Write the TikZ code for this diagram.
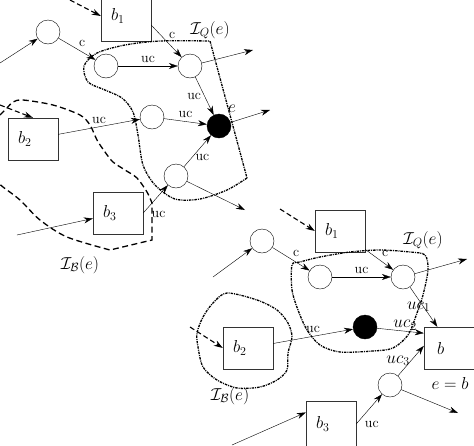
\documentclass[tikz,border=0pt]{standalone}
\usepackage{amsmath,amssymb}
\usetikzlibrary{arrows.meta, calc, positioning}

\tikzset{
  mth/.style={font=\fontsize{17}{20}\selectfont},
  vert/.style={draw, circle, minimum size=24pt, inner sep=0pt},
  evt/.style={vert, fill=black},
  bx/.style={draw=black!80, rectangle, minimum width=50pt, minimum height=42pt,
    text width=30pt, align=left, inner sep=0pt, mth},
  qreg/.style={line width=1.3pt, dash pattern=on 2.5pt off 1pt on 1pt off 1pt},
  breg/.style={line width=1.3pt, dash pattern=on 6pt off 3.5pt},
  dsharr/.style={->, line width=1.1pt, dash pattern=on 5pt off 3pt},
}

\begin{document}
\begin{tikzpicture}[x=1pt, y=-1pt, font=\fontsize{14}{16}\selectfont]
    \tikzset{>={Stealth[length=9pt,width=6pt]}}
    \clip (0,0) rectangle (474,445);

    % first state
    \node[bx, minimum height=50pt] (b1) at (126,16) {$b_1$};
    \node[bx] (b2) at (33,139) {$b_2$};
    \node[bx] (b3) at (118,213) {$b_3$};
    \node[vert] (c1) at (48,32) {};
    \node[vert] (c2) at (106,66) {};
    \node[vert] (c3) at (190,66) {};
    \node[vert] (c4) at (152,117) {};
    \node[vert] (c5) at (176,176) {};
    \node[evt, label={[mth, label distance=-1pt]60:$e$}] (e1) at (219,126) {};
    \coordinate (in1) at (0,63);
    \coordinate (in3) at (17,235);
    \coordinate (out3) at (253,50);
    \coordinate (oute) at (270,110);
    \coordinate (out5) at (245,210);
    \coordinate (ds1) at (70,0);
    \coordinate (ds2) at (0,105);

    \draw[->] (in1) -- (c1);
    \draw[->] (c1) -- node[above right=-2pt] {c} (c2);
    \draw[->] (c2) -- node[above] {uc} (c3);
    \draw[->] ($(b1.north east)!0.68!(b1.south east)$) -- node[above right=-1pt] {c} (c3);
    \draw[->] (c3) -- (out3);
    \draw[->] (c3) -- node[left] {uc} (e1);
    \draw[->] (b2) -- node[above] {uc} (c4);
    \draw[->] (c4) -- node[above] {uc} (e1);
    \draw[->] (e1) -- (oute);
    \draw[->] (c5) -- node[pos=0.3, right] {uc} (e1);
    \draw[->] (c5) -- (out5);
    \draw[->] (in3) -- (b3);
    \draw[->] (b3.east) -- node[pos=0.2, below right] {uc} (c5);
    \draw[dsharr] (ds1) -- (b1.west);
    \draw[dsharr] (ds2) -- (b2.north);

    \draw[qreg] plot[smooth] coordinates {(247,178) (227,190) (200,199) (175,199)
      (155,185) (143,165) (138,135) (133,112) (122,98) (105,90) (88,82) (84,66)
      (97,53) (125,45) (160,41) (210,41)} -- cycle;
    \draw[breg] plot[smooth] coordinates {(0,115) (7,108) (13,102) (23,100) (53,105)
      (80,115) (90,125) (97,140) (105,152) (113,162) (125,170) (137,178) (147,192)
      (152,203)} -- (152,240) -- (110,250) -- plot[smooth] coordinates {(110,250)
      (67,237) (40,220) (20,200) (3,187) (-5,180)};
    \node[mth] (iq1) at (210,30) {$\mathcal{I}_Q(e)$};
    \node[mth] (ib1) at (80,265) {$\mathcal{I}_{\mathcal{B}}(e)$};

    % second state
    \node[bx] (p1) at (340,231) {$b_1$};
    \node[bx] (p2) at (248,348) {$b_2$};
    \node[bx, minimum height=46pt] (p3) at (331,424) {$b_3$};
    \node[bx, minimum width=56pt] (bb) at (452,348) {$b$};
    \node[vert] (d1) at (262,241) {};
    \node[vert] (d2) at (320,277) {};
    \node[vert] (d3) at (403,277) {};
    \node[vert] (d4) at (390,385) {};
    \node[evt] (e2) at (365,327) {};
    \coordinate (ind1) at (213,277);
    \coordinate (inp3) at (232,445);
    \coordinate (outd3) at (467,259);
    \coordinate (outd4) at (458,413);
    \coordinate (ds3) at (280,209);
    \coordinate (ds4) at (190,327);

    \draw[->] (ind1) -- (d1);
    \draw[->] (d1) -- node[above right=-2pt] {c} (d2);
    \draw[->] (d2) -- node[above] {uc} (d3);
    \draw[->] (p1) -- node[above right=-1pt] {c} (d3);
    \draw[->] (d3) -- (outd3);
    \draw[->] (d3) -- node[pos=0.5, xshift=-5pt, mth] {$uc_1$} (bb);
    \draw[->] (p2) -- node[above] {uc} (e2);
    \draw[->] (e2) -- node[pos=0.6, above, mth, inner sep=1pt] {$uc_2$} ($(bb.north west)!0.15!(bb.south west)$);
    \draw[->] (d4) -- node[left, mth, inner sep=1pt] {$uc_3$} ($(bb.north west)!0.45!(bb.south west)$);
    \draw[->] (d4) -- (outd4);
    \draw[->] (inp3) -- ($(p3.north west)!0.25!(p3.south west)$);
    \draw[->] (p3.east) -- node[pos=0.2, below right] {uc} (d4);
    \draw[dsharr] (ds3) -- (p1.west);
    \draw[dsharr] (ds4) -- (p2.west);

    \draw[qreg] plot[smooth cycle] coordinates {(292,265) (292,290) (298,310) (307,330)
      (320,345) (340,352) (373,351) (393,348) (408,335) (417,313) (423,295) (428,270)
      (425,255) (410,252) (380,250) (350,252) (320,257) (300,262)};
    \draw[qreg] plot[smooth cycle] coordinates {(227,293) (257,300) (277,310) (288,323)
      (292,337) (288,353) (287,370) (277,380) (260,387) (237,388) (217,380) (203,367)
      (198,347) (197,333) (203,317) (213,303)};
    \node[mth] (iq2) at (423,240) {$\mathcal{I}_Q(e)$};
    \node[mth] (ib2) at (230,396) {$\mathcal{I}_{\mathcal{B}}(e)$};
    \node[mth, anchor=west] (eqb) at (428,383) {$e=b$};
\end{tikzpicture}
\end{document}
